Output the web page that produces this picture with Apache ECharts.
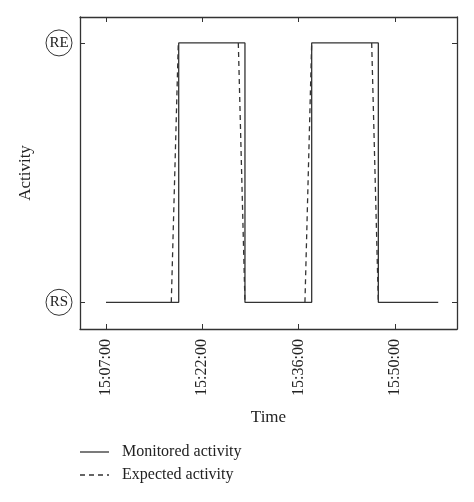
<!DOCTYPE html>
<html><head><meta charset="utf-8">
<script src="https://cdn.jsdelivr.net/npm/echarts@6/dist/echarts.min.js"></script>
<style>html,body{margin:0;background:#fff}#c{width:474px;height:502px}</style>
</head><body><div id="c"></div>
<script>
const tickLabels = ['15:07:00','15:22:00','15:36:00','15:50:00'];
const yLabels = ['RS','RE'];
const seriesNames = ['Monitored activity','Expected activity'];
const monitored = [[0,0],[0.755,0],[0.755,1],[1.443,1],[1.443,0],[2.136,0],[2.136,1],[2.828,1],[2.828,0],[3.45,0]];
const expected = [[0.678,0],[0.751,1],null,[1.374,1],[1.443,0],null,[2.066,0],[2.136,1],null,[2.759,1],[2.828,0]];
const F = 'Liberation Serif';
const chart = echarts.init(document.getElementById('c'));
const xCommon = {type:'value',min:-0.27,max:3.645,interval:1,splitLine:{show:false},
  axisLine:{onZero:false,lineStyle:{color:'#333',width:1.3}},axisTick:{inside:true,length:5,lineStyle:{color:'#333'},customValues:[0,1,2,3]}};
const yCommon = {type:'value',min:-0.103,max:1.1,splitLine:{show:false},
  axisLine:{onZero:false,lineStyle:{color:'#333',width:1.3}},axisTick:{inside:true,length:5,lineStyle:{color:'#333'},customValues:[0,1]}};
chart.setOption({
  animation:false,
  textStyle:{fontFamily:F},
  grid:{left:80,right:17,top:17,bottom:173},
  graphic:[
    {type:'line',shape:{x1:80,y1:452,x2:109,y2:452},style:{stroke:'#333',lineWidth:1.3}},
    {type:'line',shape:{x1:80,y1:475,x2:109,y2:475},style:{stroke:'#333',lineWidth:1.3,lineDash:[5,4]}},
    {type:'text',x:122,y:452,style:{text:seriesNames[0],font:'16px "Liberation Serif"',fill:'#222',verticalAlign:'middle'}},
    {type:'text',x:122,y:475,style:{text:seriesNames[1],font:'16px "Liberation Serif"',fill:'#222',verticalAlign:'middle'}}
  ],
  xAxis:[Object.assign({},xCommon,{position:'bottom',name:'Time',nameLocation:'middle',nameGap:80,
    nameTextStyle:{fontFamily:F,fontSize:17,color:'#222'},
    axisLabel:{rotate:90,fontFamily:F,fontSize:16,color:'#222',margin:10,
      customValues:[0,1,2,3],formatter:v=>tickLabels[Math.round(v)]}}),
    Object.assign({},xCommon,{position:'top',axisLabel:{show:false}})],
  yAxis:[Object.assign({},yCommon,{position:'left',name:'Activity',nameLocation:'middle',nameGap:46,
    nameTextStyle:{fontFamily:F,fontSize:17,color:'#222'},
    axisLabel:{customValues:[0,1],margin:8,formatter:v=>'{c|'+yLabels[Math.round(v)]+'}',
      rich:{c:{fontFamily:F,fontSize:15,color:'#222',width:26,height:26,lineHeight:26,align:'center',
        borderColor:'#333',borderWidth:1,borderRadius:13}}}}),
    Object.assign({},yCommon,{position:'right',axisLabel:{show:false}})],
  series:[
    {name:seriesNames[0],type:'line',data:monitored,symbol:'none',color:'#333',lineStyle:{width:1.3,color:'#333'}},
    {name:seriesNames[1],type:'line',data:expected,symbol:'none',connectNulls:false,color:'#333',lineStyle:{width:1.3,color:'#333',type:[5,4]}}
  ]
});
</script></body></html>
